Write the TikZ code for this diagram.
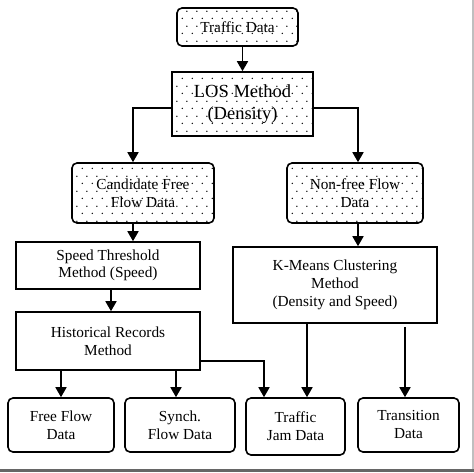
\documentclass[tikz,border=0pt]{standalone}
\usepackage{fontspec}
\setmainfont{Liberation Serif}
\usetikzlibrary{arrows.meta,patterns.meta}
\tikzdeclarepattern{
  name=sparsedots,
  type=uncolored,
  bounding box={(0pt,0pt) and (10pt,15pt)},
  tile size={(10pt,15pt)},
  code={
    \fill (2.5pt,3.75pt) circle (0.8pt);
    \fill (7.5pt,11.25pt) circle (0.8pt);
  }
}
\begin{document}
\begin{tikzpicture}[x=1pt,y=-1pt,
  box/.style={draw, line width=1.6pt, inner sep=0pt, align=center,
    font=\fontsize{15.3}{18}\selectfont},
  rbox/.style={box, rounded corners=5pt},
  dotbox/.style={pattern={sparsedots}, pattern color=black},
  arr/.style={line width=1.7pt, -{Triangle[width=11pt,length=10pt]}},
  scanbar/.style={fill=#1, draw=none}
]
\useasboundingbox (0,0) rectangle (474,472);
\fill[white] (0,0) rectangle (474,472);

% nodes
\node[rbox, dotbox, minimum width=121pt, minimum height=38pt] (traffic) at (237.5,27) {Traffic Data};
\node[box, dotbox, minimum width=141pt, minimum height=64pt,
      font=\fontsize{18.5}{22}\selectfont] (los) at (242.5,104) {LOS Method\\(Density)};
\node[rbox, dotbox, minimum width=142pt, minimum height=60pt] (cand) at (143,193) {Candidate Free\\Flow Data};
\node[rbox, dotbox, minimum width=136pt, minimum height=60pt] (nonfree) at (355,193) {Non-free Flow\\Data};
\node[box, minimum width=184pt, minimum height=47pt, font=\fontsize{15.3}{16.5}\selectfont] (speed) at (108,265.5) {Speed Threshold\\Method (Speed)};
\node[box, minimum width=204pt, minimum height=76pt] (kmeans) at (335,285) {K-Means Clustering\\Method\\(Density and Speed)};
\node[box, minimum width=184pt, minimum height=58pt] (hist) at (108,341) {Historical Records\\Method};
\node[rbox, minimum width=106pt, minimum height=54pt] (free) at (61,425) {Free Flow\\Data};
\node[rbox, minimum width=110pt, minimum height=54pt] (synch) at (180,425) {Synch.\\Flow Data};
\node[rbox, minimum width=99pt, minimum height=57pt] (jam) at (295.5,426.5) {Traffic\\Jam Data};
\node[rbox, minimum width=101pt, minimum height=54pt] (trans) at (408.5,425) {Transition\\Data};

% connectors
\draw[arr] (traffic.south -| los.north) -- (los.north);
\draw[arr] ([yshift=-4pt]los.west) -| ([xshift=-10pt]cand.north);
\draw[arr] ([yshift=-4pt]los.east) -| ([xshift=3pt]nonfree.north);
\draw[arr] ([xshift=-10pt]cand.south) -- ([xshift=-10pt]cand.south |- speed.north);
\draw[arr] ([xshift=3pt]nonfree.south) -- ([xshift=3pt]nonfree.south |- kmeans.north);
\draw[arr] ([xshift=3pt]speed.south) -- ([xshift=3pt]hist.north);
\draw[arr] (free.north |- hist.south) -- (free.north);
\draw[arr] ([xshift=-4pt]synch.north |- hist.south) -- ([xshift=-4pt]synch.north);
\draw[arr] ([yshift=-20pt]hist.east) -| ([xshift=-31.5pt]jam.north);
\draw[arr] ([xshift=11.5pt]jam.north |- kmeans.south) -- ([xshift=11.5pt]jam.north);
\draw[arr] ([xshift=-3.5pt, yshift=-3pt]trans.north |- kmeans.south) -- ([xshift=-3.5pt]trans.north);

% scan edges
\fill[scanbar=black!25] (471.5,0) rectangle (474,472);
\fill[scanbar=black!60] (0,469) rectangle (474,472);
\end{tikzpicture}
\end{document}
